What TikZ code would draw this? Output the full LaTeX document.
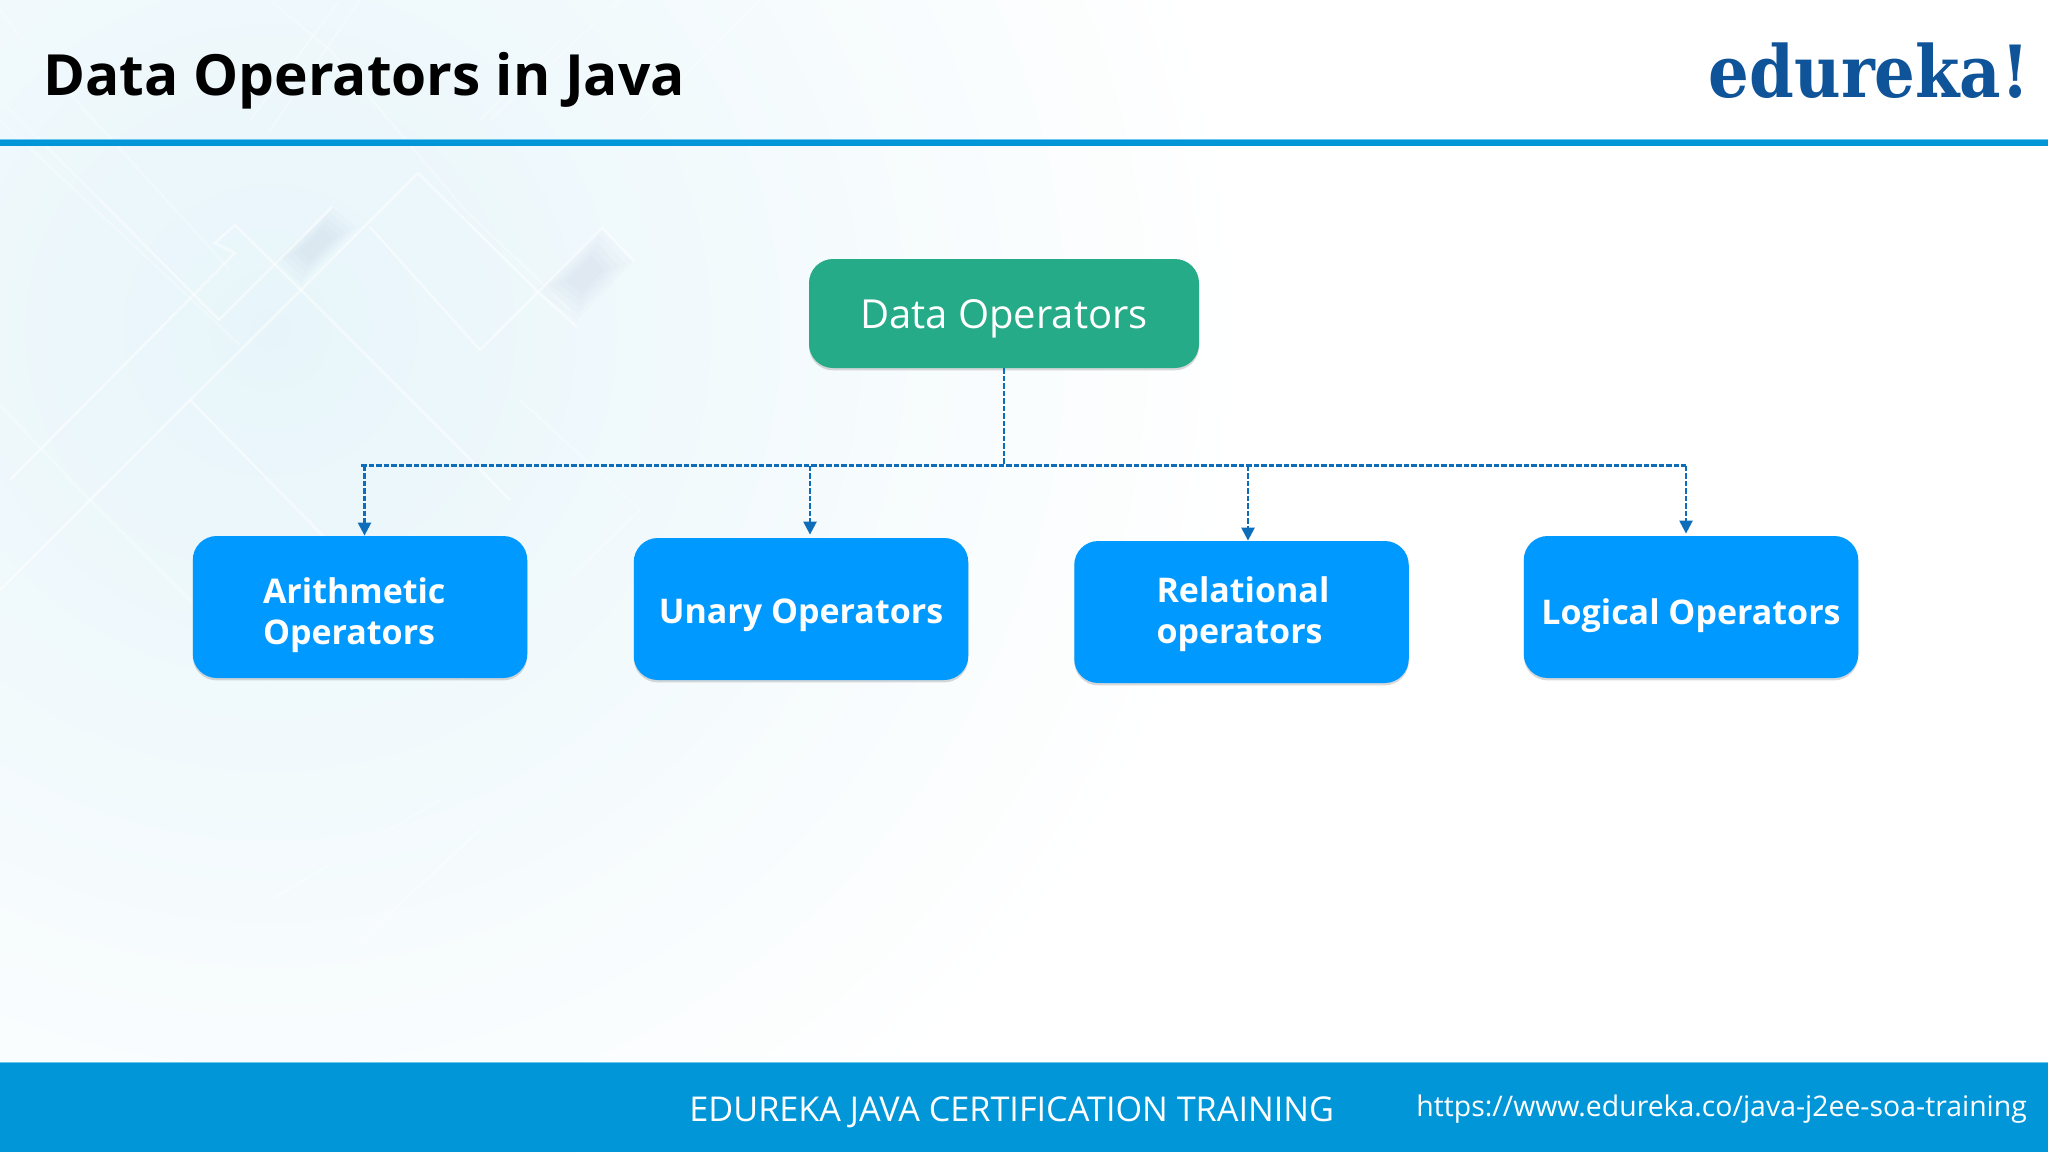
\documentclass[tikz,border=0pt]{standalone}
\usepackage{fontspec}
\setmainfont{Open Sans}
\newfontfamily\logofont{DejaVu Serif}
\usetikzlibrary{arrows.meta,shadows}
\definecolor{bandblue}{HTML}{0096D8}
\definecolor{bandedge}{HTML}{6CC6EE}
\definecolor{boxblue}{HTML}{0099FF}
\definecolor{boxgreen}{HTML}{25AB87}
\definecolor{linkblue}{HTML}{0E6DBA}
\definecolor{logoblue}{HTML}{0F5499}
\definecolor{washblue}{HTML}{E7F5FA}
\definecolor{blotgray}{HTML}{8A96A8}
\tikzset{
  facet/.style={draw=white,line width=1.3pt,opacity=.5},
  softline/.style={draw=white,line width=1.1pt,opacity=.3},
  blot/.style={fill=blotgray,opacity=.022},
  card/.style={rounded corners=12pt,minimum height=71pt,minimum width=167.25pt,fill=boxblue,text=white,
    font=\bfseries\fontsize{17}{20.5}\selectfont,drop shadow={shadow xshift=0pt,shadow yshift=-1.2pt,opacity=.3}},
  twoline/.style={align=left,text width=97pt,inner xsep=35pt},
  rootcard/.style={card,minimum width=195pt,minimum height=54.5pt,fill=boxgreen,font=\fontsize{20}{24}\selectfont},
  link/.style={draw=linkblue,line width=1.2pt,dash pattern=on 2.75pt off 1pt},
  arrowlink/.style={link,-{Triangle[length=6.5pt,width=6.5pt]}},
  foottext/.style={anchor=base west,text=white,inner sep=0pt}
}
\begin{document}
\begin{tikzpicture}[x=0.5pt,y=-0.5pt]
\useasboundingbox (0,0) rectangle (2048,1152);
\begin{scope}
\clip (0,0) rectangle (2048,1152);
\fill[white] (0,0) rectangle (2048,1152);
\shade[inner color=washblue,outer color=white] (270,330) circle (980);
% faint diamond pattern: soft grey bands
\foreach \s in {1,.85,.7,.55,.4}{
  \begin{scope}[shift={(316,245)},scale=\s]
    \fill[blot] (-41,15) -- (16,-38) -- (41,-18) -- (-15,38) -- cycle;
  \end{scope}
  \begin{scope}[shift={(585,275)},scale=\s]
    \fill[blot] (-49,15) -- (17,-47) -- (48,-13) -- (-8,45) -- cycle;
  \end{scope}
}
\draw[facet] (418,173) -- (536,290) -- (577,327);
\draw[facet] (418,173) -- (301,290) -- (190,400) -- (0,590);
\draw[facet] (480,350) -- (602,228) -- (635,262);
\draw[facet] (370,227) -- (480,350);
\draw[facet] (235,225) -- (301,290) -- (464,453) -- (510,500);
\draw[facet] (235,225) -- (215,243) -- (235,253) -- (10,480);
\draw[facet] (219,320) -- (332,207);
\draw[facet] (219,320) -- (100,200);
\draw[facet] (190,400) -- (464,680);
\draw[softline] (0,120) -- (240,345);
\draw[softline] (100,200) -- (0,100);
\draw[softline] (0,10) -- (30,50) -- (130,160) -- (230,270);
\draw[softline] (270,0) -- (330,50) -- (465,210) -- (570,310);
\draw[softline] (490,120) -- (620,0);
\draw[softline] (250,120) -- (340,0);
\draw[softline] (270,130) -- (360,0);
\draw[softline] (0,405) -- (80,490) -- (270,680);
\draw[softline] (640,120) -- (760,0);
\draw[softline] (464,680) -- (640,510) -- (520,400);
\draw[softline] (560,40) -- (480,120);
\draw[softline] (270,900) -- (440,800);
\draw[softline] (350,950) -- (480,830);
\end{scope}
% header and footer
\fill[bandblue] (0,139.5) rectangle (2048,146);
\fill[bandedge] (0,138.5) rectangle (2048,140);
\fill[bandblue] (0,1062) rectangle (2048,1152);
\fill[bandedge] (0,1061.5) rectangle (2048,1063);
\node[anchor=base west,inner sep=0pt,font=\bfseries\fontsize{28.4}{34}\selectfont] (title) at (43,95) {Data Operators in Java};
\node[anchor=base east,inner sep=0pt,text=logoblue,font=\logofont\bfseries\fontsize{36}{44}\selectfont] (logo) at (2030,97.5) {\scalebox{.89}[1]{edureka!}};
\node[foottext,font=\fontsize{17.1}{20}\selectfont] (foota) at (689,1121) {EDUREKA JAVA CERTIFICATION TRAINING};
\node[foottext,font=\fontsize{14.2}{19}\selectfont] (footb) at (1416,1116) {https://www.edureka.co/java-j2ee-soa-training};
% boxes
\node[rootcard,text height=19.8pt,text depth=5pt] (root) at (1004,313.5) {Data Operators};
\node[card,twoline] (arith) at (360,607) {\rule{0pt}{21pt}Arithmetic\\Operators};
\node[card,text height=18pt,text depth=4pt] (unary) at (801,609) {Unary Operators};
\node[card,twoline,inner xsep=41pt,text width=85pt] (rel) at (1241.5,612) {\rule{0pt}{15pt}Relational\\operators};
\node[card,text height=21.3pt,text depth=4pt] (logic) at (1691,607) {Logical Operators};
% connectors
\coordinate (busl) at (361,465.5);
\coordinate (busr) at (1686,465.5);
\coordinate (ta) at (364.5,465.5);
\coordinate (tu) at (810,465.5);
\coordinate (tr) at (1248,465.5);
\draw[link] (root.south) -- (root.south |- busl);
\draw[link] (busl) -- (busr);
\draw[arrowlink] (ta) -- (ta |- arith.north);
\draw[arrowlink,shorten >=1.5pt] (tu) -- (tu |- unary.north);
\draw[arrowlink] (tr) -- (tr |- rel.north);
\draw[arrowlink,shorten >=1pt] (busr) -- (busr |- logic.north);
\end{tikzpicture}
\end{document}
